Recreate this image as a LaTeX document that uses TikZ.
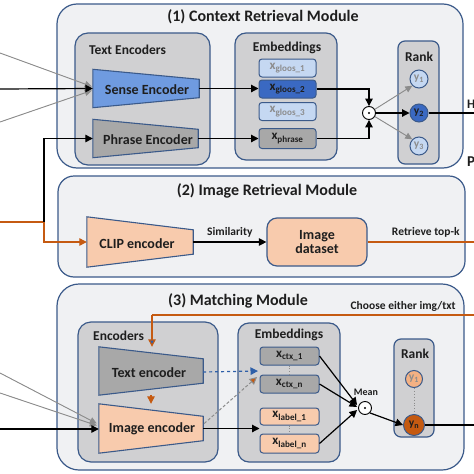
\documentclass[tikz,border=0pt]{standalone}
\usepackage{fontspec}
\setmainfont{Carlito}
\usetikzlibrary{arrows.meta,calc,shapes.geometric}
\definecolor{navy}{HTML}{3B5A8A}
\definecolor{modfill}{HTML}{F0F1F3}
\definecolor{grpfill}{HTML}{D0D0D2}
\definecolor{sensefill}{HTML}{6F9BE0}
\definecolor{lblue}{HTML}{C5D8F2}
\definecolor{dblue}{HTML}{3A69C2}
\definecolor{gfill}{HTML}{A8A8A8}
\definecolor{ofill}{HTML}{F8CBAD}
\definecolor{oline}{HTML}{C55A11}
\definecolor{ydark}{HTML}{C55A11}
\definecolor{ylight}{HTML}{F4B183}
\definecolor{gline}{HTML}{8C8C8C}
\definecolor{arrblue}{HTML}{2E5FA8}
\definecolor{txt}{HTML}{1E1E1E}
\newcommand\enctrap[3]{% name, inset, fill
  \draw[navy,line width=1.1pt,fill=#3] (#1.north west) -- ($(#1.north east)+(0,#2)$) -- ($(#1.south east)+(0,-#2)$) -- (#1.south west) -- cycle;}
\begin{document}
\begin{tikzpicture}[x=1pt,y=-1pt,
  font=\bfseries, text=txt,
  module/.style={draw=navy,line width=1.2pt,fill=modfill,rounded corners=20pt,inner sep=0pt},
  group/.style={draw=navy,line width=1.2pt,fill=grpfill,rounded corners=13pt,inner sep=0pt},
  rankbox/.style={draw=navy,line width=1.2pt,fill=grpfill,rounded corners=7pt,inner sep=0pt},
  enc/.style={inner sep=0pt,font=\bfseries\fontsize{14}{15}\selectfont},
  emb/.style={draw=navy,line width=1pt,rounded corners=3pt,inner sep=0pt,minimum width=57pt,minimum height=18pt,font=\bfseries\fontsize{13}{13}\selectfont},
  rk/.style={circle,draw=navy,line width=1pt,inner sep=0pt,minimum size=18pt,font=\bfseries\fontsize{11.5}{12}\selectfont},
  dotc/.style={circle,draw=black,line width=0.9pt,fill=white,inner sep=0pt,minimum size=13pt},
  arr/.style={-{Triangle[length=7.5pt,width=7.5pt]},line width=1.2pt},
  garr/.style={-{Triangle[length=7pt,width=6.5pt]},line width=0.9pt,draw=gline,fill=gline},
  ttl/.style={font=\bfseries\fontsize{16}{17}\selectfont},
  grl/.style={font=\bfseries\fontsize{13.5}{14}\selectfont,anchor=west,inner sep=0pt},
  lbl/.style={font=\bfseries\fontsize{11.5}{12}\selectfont,inner sep=0pt}
]
\useasboundingbox (0,0) rectangle (474,474);
\fill[white] (0,0) rectangle (474,474);
% ---------- Module 1 ----------
\node[module,minimum width=406pt,minimum height=164pt] (m1) at (260,86) {};
\node[ttl] (t1) at (263,17) {(1) Context Retrieval Module};
\node[group,minimum width=135pt,minimum height=132pt] (te) at (142.5,99) {};
\node[grl] (tel) at (89,50) {Text Encoders};
\node[enc,minimum width=106pt,minimum height=38pt] (sense) at (146,88.5) {};
\enctrap{sense}{10}{sensefill}
\node[enc] (sensel) at (147,90) {Sense Encoder};
\node[enc,minimum width=105pt,minimum height=38pt] (phrase) at (145.5,138.5) {};
\enctrap{phrase}{10}{gfill}
\node[enc] (phrasel) at (148,140) {Phrase Encoder};
\node[group,rounded corners=11pt,minimum width=102pt,minimum height=127pt] (e1) at (286,96.5) {};
\node[grl,anchor=center] (e1l) at (287,48) {Embeddings};
\node[emb,fill=lblue,text=gline] (g1) at (287.5,68) {x\textsubscript{gloos\_1}};
\node[emb,fill=dblue] (g2) at (287.5,89) {x\textsubscript{gloos\_2}};
\node[emb,fill=lblue,text=gline] (g3) at (287.5,111.5) {x\textsubscript{gloos\_3}};
\node[emb,fill=gfill,minimum height=20pt] (xp) at (287.5,138.5) {x\textsubscript{phrase}};
\node[dotc] (d1) at (369,113) {};
\fill (d1.center) circle (1.2pt);
\node[rankbox,minimum width=41pt,minimum height=123pt] (r1) at (418.5,102.5) {};
\node[grl,anchor=center] (r1l) at (419,57) {Rank};
\node[rk,fill=lblue,text=gline] (y1) at (419,79) {y\textsubscript{1}};
\node[rk,fill=dblue] (y2) at (419,113) {y\textsubscript{2}};
\node[rk,fill=lblue,text=gline] (y3) at (419,146) {y\textsubscript{3}};
\coordinate (in1a) at (0,53);
\coordinate (in1b) at (0,89);
\coordinate (in1c) at (0,122);
\draw[garr] (in1a) -- ($(sense.west)+(-1,-2)$);
\draw[garr] (in1c) -- ($(sense.west)+(-1,2)$);
\draw[arr] (in1b) -- (sense.west);
\draw[arr] (sense.east) -- (sense.east -| g2.west);
\draw[arr] (phrase.east) -- (phrase.east -| xp.west);
\draw[arr] (g2.east) -| (d1.north);
\draw[arr] (xp.east) -| (d1.south);
\draw[garr] (d1) -- (y1.south west);
\draw[garr] (d1) -- (y3.north west);
\draw[arr] (d1.east) -- (y2.west);
\coordinate (out1) at (474,113);
\draw[line width=1.2pt] (y2.east) -- (out1);
\node[anchor=west,font=\bfseries\fontsize{13}{13}\selectfont,inner sep=0pt] (hh) at (467,104) {H};
\node[anchor=west,font=\bfseries\fontsize{15}{15}\selectfont,inner sep=0pt] (pp) at (467,162) {P};
% ---------- Module 2 ----------
\node[module,rounded corners=16pt,minimum width=407pt,minimum height=101pt] (m2) at (261.5,226.5) {};
\node[ttl] (t2) at (267,191) {(2) Image Retrieval Module};
\node[enc,minimum width=106pt,minimum height=50pt] (clip) at (140,242) {};
\enctrap{clip}{13}{ofill}
\node[enc] (clipl) at (137,244) {CLIP encoder};
\node[draw=navy,line width=1.2pt,fill=ofill,rounded corners=10pt,minimum width=100pt,minimum height=48pt,enc,align=center] (ds) at (317,242) {Image\\[-1pt]dataset};
\draw[arr] (clip.east) -- node[lbl,above=4pt] (siml) {Similarity} (ds.west);
\coordinate (out2) at (474,242);
\draw[oline,line width=1.2pt] (ds.east) -- node[lbl,above=4pt,text=txt,xshift=5pt] (retl) {Retrieve top-k} (out2);
% phrase / clip input
\coordinate (in2) at (0,222);
\coordinate (sp) at (44,222);
\draw[oline,line width=1.2pt] (in2) -- (sp);
\draw[arr] (sp) |- (phrase.west);
\draw[arr,oline] (sp) |- (clip.west);
% ---------- Module 3 ----------
\node[module,rounded corners=22pt,minimum width=407pt,minimum height=186pt] (m3) at (260.5,377) {};
\node[ttl] (t3) at (238,301) {(3) Matching Module};
\node[group,minimum width=140pt,minimum height=140pt] (en) at (148,392) {};
\node[grl] (enl) at (93,336) {Encoders};
\node[enc,minimum width=104pt,minimum height=48pt] (tenc) at (151,371) {};
\enctrap{tenc}{12}{gfill}
\node[enc] (tencl) at (149,373) {Text encoder};
\node[enc,minimum width=104pt,minimum height=49pt] (ienc) at (151,428.5) {};
\enctrap{ienc}{12.5}{ofill}
\node[enc] (iencl) at (152,429) {Image encoder};
\node[group,rounded corners=11pt,minimum width=102pt,minimum height=139pt] (e3) at (289,392.5) {};
\node[grl,anchor=center] (e3l) at (289,335) {Embeddings};
\node[emb,fill=gfill,minimum width=59pt] (c1) at (289.5,356) {x\textsubscript{ctx\_1}};
\node[emb,fill=gfill,minimum width=59pt] (cn) at (289.5,384) {x\textsubscript{ctx\_n}};
\node[emb,fill=ofill,minimum width=59pt,minimum height=17pt] (l1) at (289.5,416.5) {x\textsubscript{label\_1}};
\node[emb,fill=ofill,minimum width=59pt,minimum height=19pt] (ln) at (289.5,443.5) {x\textsubscript{label\_n}};
\draw[line width=0.9pt,dotted,gline] (c1.south) -- (cn.north);
\draw[line width=0.9pt,dotted,gline] (l1.south) -- (ln.north);
\node[dotc] (d3) at (365,408) {};
\fill (d3.center) circle (1.2pt);
\node[font=\bfseries\fontsize{10}{10}\selectfont,inner sep=0pt] (meanl) at (366,392) {Mean};
\node[rankbox,minimum width=40pt,minimum height=98pt] (r3) at (414,388) {};
\node[grl,anchor=center] (r3l) at (415,354) {Rank};
\node[rk,fill=ylight,text=gline,minimum size=17pt] (yy1) at (414,379) {y\textsubscript{1}};
\node[rk,fill=ydark,minimum size=21pt] (yyn) at (414,425) {y\textsubscript{n}};
\draw[line width=0.9pt,dotted,gline] (yy1.south) -- (yyn.north);
% connectors module 3
\coordinate (cho) at (474,315);
\coordinate (chc) at (152,315);
\draw[oline,line width=1.2pt] (cho) -- node[lbl,above=3pt,text=txt,pos=0.22] (chl) {Choose either img/txt} (chc);
\draw[oline,line width=1.2pt,-{Triangle[length=7.5pt,width=7.5pt,fill=arrblue]}] (chc) -- (chc |- tenc.north);
\draw[oline,line width=1.2pt,-{Triangle[length=7.5pt,width=7.5pt]}] (tenc.south) -- (ienc.north);
\coordinate (in3a) at (0,373);
\coordinate (in3b) at (0,393);
\coordinate (in3c) at (0,429);
\draw[garr] (in3a) -- ($(ienc.west)+(-2,-5)$);
\draw[garr] (in3b) -- ($(ienc.west)+(-2,-3)$);
\draw[arr] (in3c) -- (in3c -| ienc.west);
\coordinate (dtip) at (258,371);
\coordinate (otip) at (257,377);
\draw[arrblue,line width=1.2pt,dashed,-{Triangle[length=7.5pt,width=7.5pt]}] ($(tenc.east)+(0,1)$) -- (dtip);
\draw[gline,line width=1pt,densely dashed,-{Triangle[length=7.5pt,width=7.5pt,fill=oline]}] ($(ienc.east)+(1,-5)$) -- (otip);
\draw[arr] (ienc.east) -- (ienc.east -| l1.west);
\draw[arr] (c1.east) -- ($(d3.west)+(-1,-3)$);
\draw[arr] (cn.east) -- ($(d3.west)+(-1,-1)$);
\draw[arr] (ln.east) -- ($(d3.west)+(-1,2)$);
\draw[arr] (d3.south east) -- (yyn.west);
\coordinate (out3) at (474,425);
\draw[line width=1.2pt] (yyn.east) -- (out3);
\end{tikzpicture}
\end{document}
